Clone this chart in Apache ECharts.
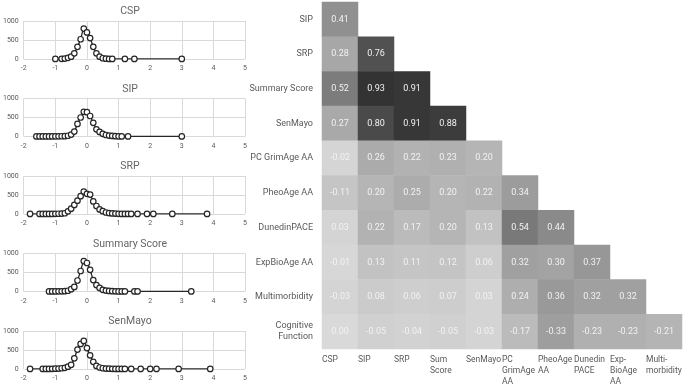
<!DOCTYPE html>
<html>
<head>
<meta charset="utf-8">
<script src="https://cdn.jsdelivr.net/npm/echarts@6/dist/echarts.min.js"></script>
<style>
  html, body { margin: 0; padding: 0; background: #fff; }
  #chart { width: 685px; height: 387px; }
</style>
</head>
<body>
<div id="chart"></div>
<script>
// distribution panels (x = bin centre, y = count)
const panelTitles = ['CSP', 'SIP', 'SRP', 'Summary Score', 'SenMayo'];

const cspX = [-1.0, -0.8, -0.7, -0.6, -0.5, -0.4, -0.3, -0.2, -0.1, 0.0, 0.1, 0.2, 0.3, 0.4, 0.5, 0.6, 0.7, 0.8, 1.2, 1.5, 3.0];
const cspY = [1, 5, 10, 30, 60, 150, 320, 520, 800, 700, 550, 320, 150, 60, 20, 8, 3, 2, 1, 1, 1];

const sipX = [-1.6, -1.5, -1.4, -1.3, -1.2, -1.1, -1.0, -0.9, -0.8, -0.7, -0.6, -0.5, -0.4, -0.3, -0.2, -0.1, 0.0, 0.1, 0.2, 0.3, 0.4, 0.5, 0.6, 0.7, 0.8, 0.9, 1.0, 1.1, 1.3, 3.0];
const sipY = [1, 1, 2, 2, 3, 3, 4, 5, 6, 8, 20, 50, 130, 330, 500, 650, 640, 540, 360, 190, 120, 70, 40, 25, 15, 8, 5, 3, 1, 1];

const srpX = [-1.8, -1.5, -1.4, -1.3, -1.2, -1.1, -1.0, -0.9, -0.8, -0.7, -0.6, -0.5, -0.4, -0.3, -0.2, -0.1, 0.0, 0.1, 0.2, 0.3, 0.4, 0.5, 0.6, 0.7, 0.8, 0.9, 1.0, 1.1, 1.2, 1.3, 1.4, 1.6, 1.9, 2.1, 2.7, 3.8];
const srpY = [1, 1, 1, 2, 2, 3, 4, 6, 10, 20, 70, 140, 240, 350, 470, 590, 530, 510, 330, 210, 120, 75, 40, 25, 15, 10, 5, 3, 2, 1, 1, 1, 1, 1, 1, 1];

const sumX = [-1.2, -1.1, -1.0, -0.9, -0.8, -0.7, -0.6, -0.5, -0.4, -0.3, -0.2, -0.1, 0.0, 0.1, 0.2, 0.3, 0.4, 0.5, 0.6, 0.7, 0.8, 0.9, 1.0, 1.1, 1.2, 1.5, 1.6, 3.3];
const sumY = [1, 2, 3, 4, 5, 8, 20, 60, 120, 290, 540, 800, 750, 570, 300, 170, 95, 45, 25, 15, 8, 5, 3, 2, 1, 1, 1, 1];

const senX = [-1.8, -1.4, -1.3, -1.2, -1.1, -1.0, -0.9, -0.8, -0.7, -0.6, -0.5, -0.4, -0.3, -0.2, -0.1, 0.0, 0.1, 0.2, 0.3, 0.4, 0.5, 0.6, 0.7, 0.8, 0.9, 1.0, 1.1, 1.2, 1.4, 1.7, 2.0, 2.2, 2.9, 3.9];
const senY = [1, 1, 2, 3, 5, 8, 12, 20, 30, 60, 110, 280, 510, 660, 740, 550, 360, 190, 80, 40, 20, 12, 8, 5, 3, 2, 1, 1, 1, 1, 1, 1, 1, 1];

const panelX = [cspX, sipX, srpX, sumX, senX];
const panelY = [cspY, sipY, srpY, sumY, senY];

// correlation heatmap (lower triangle)
const colLabels = ['CSP', 'SIP', 'SRP', 'Sum\nScore', 'SenMayo', 'PC\nGrimAge\nAA', 'PheoAge\nAA', 'Dunedin\nPACE', 'Exp-\nBioAge\nAA', 'Multi-\nmorbidity'];
const rowLabels = ['SIP', 'SRP', 'Summary Score', 'SenMayo', 'PC GrimAge AA', 'PheoAge AA', 'DunedinPACE', 'ExpBioAge AA', 'Multimorbidity', 'Cognitive\nFunction'];
const corr = [
    [0.41],
    [0.28, 0.76],
    [0.52, 0.93, 0.91],
    [0.27, 0.80, 0.91, 0.88],
    [-0.02, 0.26, 0.22, 0.23, 0.20],
    [-0.11, 0.20, 0.25, 0.20, 0.22, 0.34],
    [0.03, 0.22, 0.17, 0.20, 0.13, 0.54, 0.44],
    [-0.01, 0.13, 0.11, 0.12, 0.06, 0.32, 0.30, 0.37],
    [-0.03, 0.08, 0.06, 0.07, 0.03, 0.24, 0.36, 0.32, 0.32],
    [0.00, -0.05, -0.04, -0.05, -0.03, -0.17, -0.33, -0.23, -0.23, -0.21]
];

const FONT = 'Roboto, "Liberation Sans", sans-serif';
const TXT = '#595959';
const chart = echarts.init(document.getElementById('chart'));

const grids = [], xAxes = [], yAxes = [], titles = [], series = [];

panelTitles.forEach((name, i) => {
    const top = 21 + i * 77.5;
    grids.push({ left: 21, width: 224, top: top, height: 38 });
    titles.push({
        text: name, left: 125, top: top - 20, textAlign: 'center',
        textStyle: { fontFamily: FONT, fontSize: 10.5, fontWeight: 'normal', color: '#666666' }
    });
    xAxes.push({
        type: 'value', gridIndex: i, min: -2, max: 5, interval: 1,
        axisLine: { show: false }, axisTick: { show: false },
        axisLabel: { fontFamily: FONT, fontSize: 7, color: TXT, margin: 6 },
        splitLine: { lineStyle: { color: '#d9d9d9', width: 1 } }
    });
    yAxes.push({
        type: 'value', gridIndex: i, min: 0, max: 1000, interval: 500,
        axisLine: { show: false }, axisTick: { show: false },
        axisLabel: { fontFamily: FONT, fontSize: 7, color: TXT, margin: 5, formatter: v => String(v) },
        splitLine: { lineStyle: { color: '#d9d9d9', width: 1 } }
    });
    series.push({
        type: 'line', xAxisIndex: i, yAxisIndex: i,
        data: panelX[i].map((x, k) => [x, panelY[i][k]]),
        smooth: 0.2,
        symbol: 'circle', symbolSize: 5.5,
        itemStyle: { color: '#ffffff', borderColor: '#262626', borderWidth: 1.2 },
        lineStyle: { color: '#262626', width: 1.3 },
        silent: true, z: 3
    });
});

// heatmap grid
grids.push({ left: 322, right: 3, top: 2, bottom: 31 });
xAxes.push({
    type: 'category', gridIndex: 5, data: colLabels,
    axisLine: { show: false }, axisTick: { show: false }, axisLabel: { show: false },
    splitLine: { show: false }
});
// label axis so names sit at the left edge of each column
xAxes.push({
    type: 'value', gridIndex: 5, min: 0, max: 10, interval: 1, position: 'bottom',
    axisLine: { show: false }, axisTick: { show: false }, splitLine: { show: false },
    axisLabel: {
        fontFamily: FONT, fontSize: 8.5, color: TXT, align: 'left', margin: 5, lineHeight: 11,
        formatter: v => colLabels[v] || ''
    }
});
yAxes.push({
    type: 'category', gridIndex: 5, data: rowLabels, inverse: true,
    axisLine: { show: false }, axisTick: { show: false }, splitLine: { show: false },
    axisLabel: { fontFamily: FONT, fontSize: 9, color: TXT, margin: 9, lineHeight: 11, align: 'right' }
});

const heatData = [];
corr.forEach((row, r) => row.forEach((v, c) => heatData.push([c, r, Math.abs(v), v])));

series.push({
    type: 'heatmap', xAxisIndex: 5, yAxisIndex: 5,
    data: heatData,
    itemStyle: { borderWidth: 0 },
    label: {
        show: true, fontFamily: FONT, fontSize: 9, color: '#f2f2f2',
        formatter: p => p.value[3].toFixed(2)
    },
    emphasis: { disabled: true },
    silent: true
});

chart.setOption({
    animation: false,
    title: titles,
    grid: grids,
    xAxis: xAxes,
    yAxis: yAxes,
    visualMap: {
        show: false, seriesIndex: 5, dimension: 2, min: 0, max: 0.93,
        inRange: { color: ['#d9d9d9', '#333333'] }
    },
    series: series
});
</script>
</body>
</html>
